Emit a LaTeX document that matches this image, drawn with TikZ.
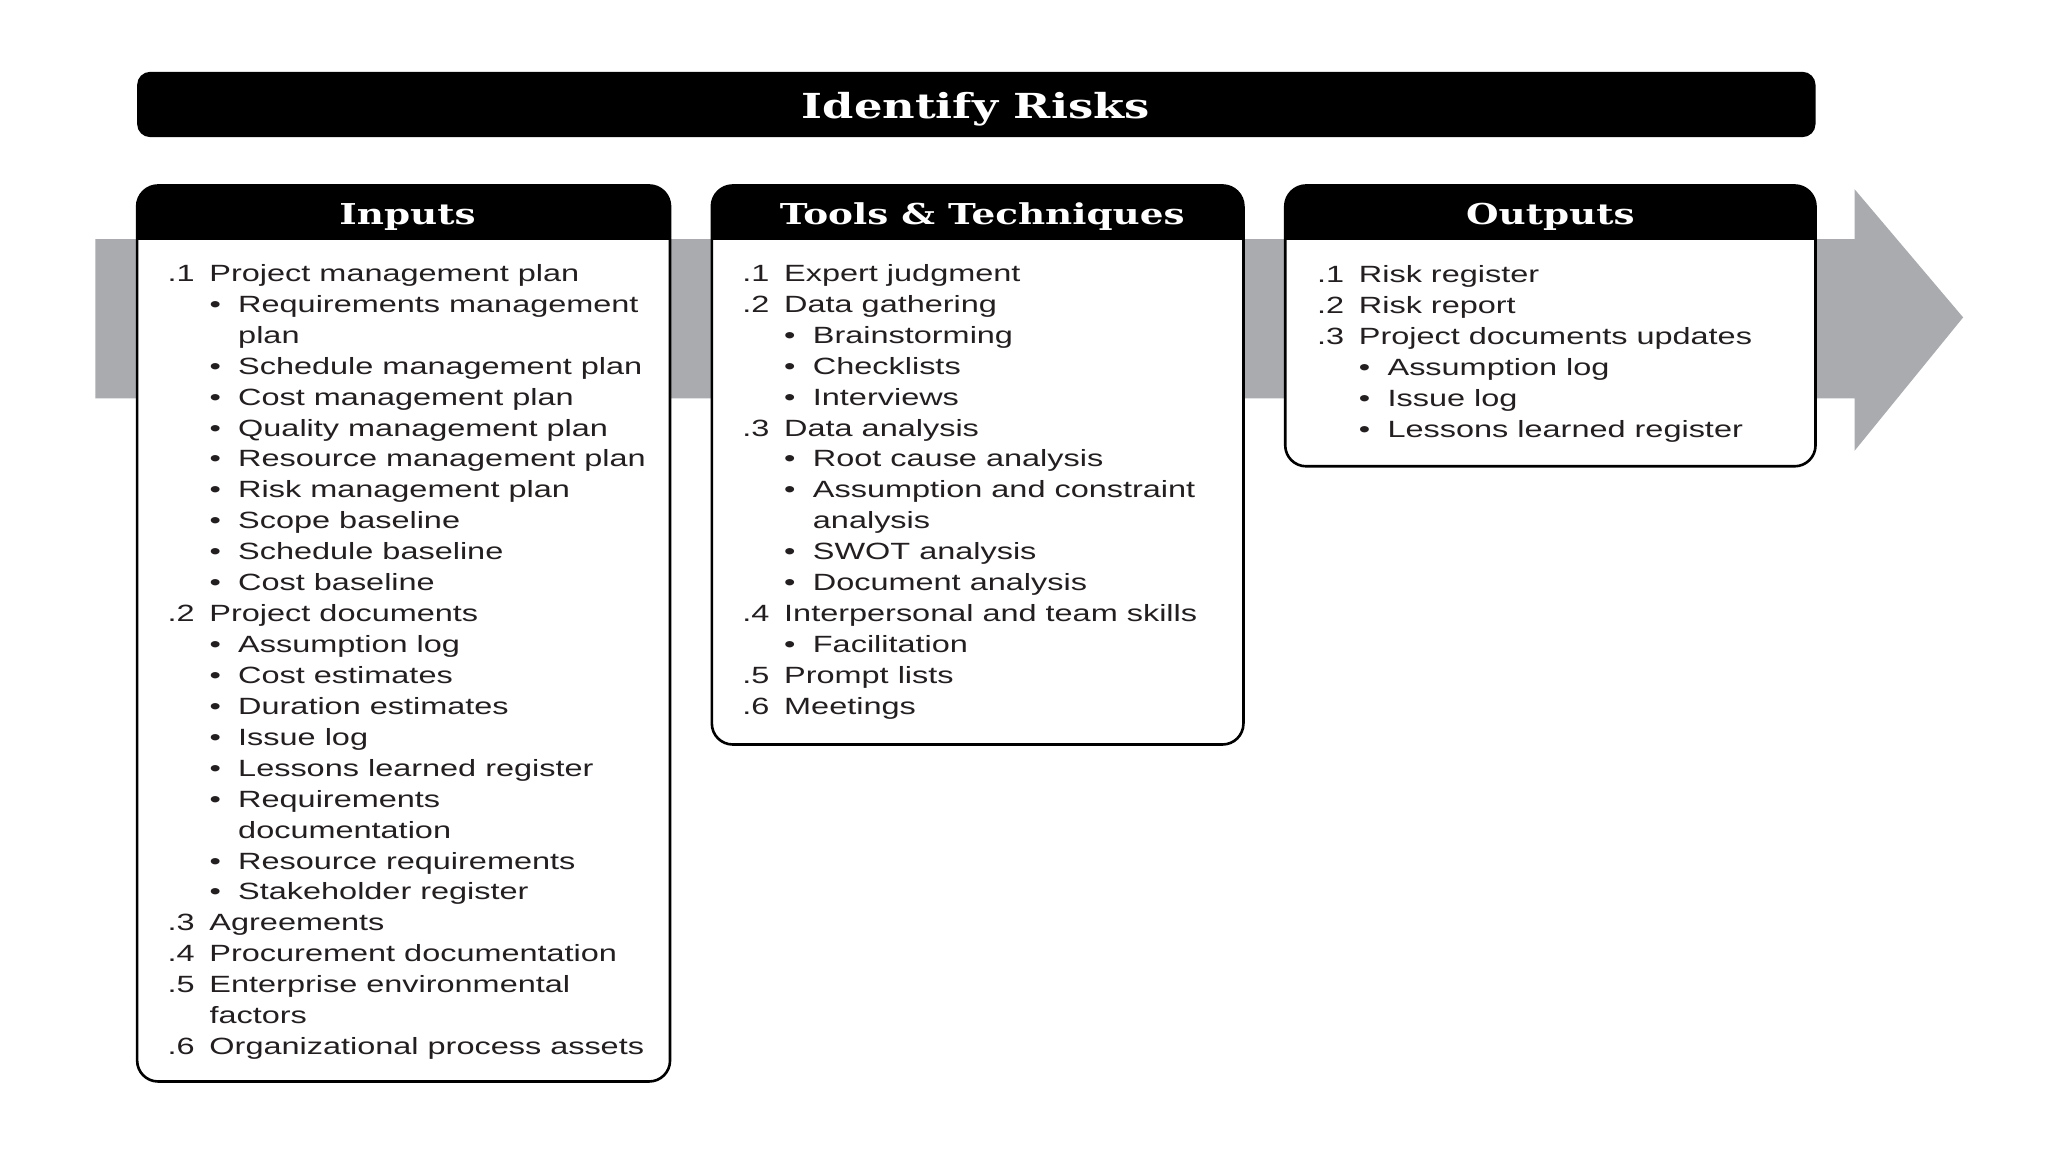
\documentclass[tikz,border=0pt]{standalone}
\usepackage{fontspec}
\setmainfont{Liberation Sans}[FakeStretch=1.38]
\newfontfamily\headfont{DejaVu Serif}[FakeStretch=1.3]
\usepackage{tikz}
\usetikzlibrary{positioning}
\definecolor{bandgray}{HTML}{A9ABAE}
\definecolor{inkgray}{HTML}{231F20}
\tikzset{
  headtext/.style={text=white,inner sep=0pt,font=\headfont\bfseries\fontsize{11}{13}\selectfont},
  titletext/.style={headtext,font=\headfont\bfseries\fontsize{13.2}{15}\selectfont},
  listtext/.style={text=inkgray,inner sep=0pt,anchor=north west,align=left,font=\fontsize{9}{11.84}\selectfont},
  panel/.style={draw=black,line width=1pt,fill=white,rounded corners=8pt}
}
\newcommand*{\numitem}[2]{\makebox[16pt][l]{#1}#2}
\newcommand*{\numwrap}[1]{\hspace*{16pt}#1}
\newcommand*{\bulitem}[1]{\hspace*{16pt}\makebox[11pt][l]{\textbullet}#1}
\newcommand*{\bulwrap}[1]{\hspace*{27pt}#1}

\begin{document}
\begin{tikzpicture}[x=0.5pt,y=-0.5pt]
\useasboundingbox[fill=white] (0,0) rectangle (1568,882);
\fill[bandgray] (73,183) -- (1420,183) -- (1420,145) -- (1503,243)
  -- (1420,345) -- (1420,305) -- (73,305) -- cycle;

\fill[rounded corners=5pt] (105,55) rectangle (1390,105);
\node[titletext] (title) at (747,84) {Identify Risks};

\draw[panel] (105,142) rectangle (513,828);
\begin{scope}
\clip (100,136) rectangle (518,183);
\fill[rounded corners=8pt] (105,142) rectangle (513,210);
\end{scope}
\node[headtext] (inhead) at (312,166) {Inputs};
\node[listtext] (inlist) at (128,202) {%
\numitem{.1}{Project management plan}\\
\bulitem{Requirements management}\\
\bulwrap{plan}\\
\bulitem{Schedule management plan}\\
\bulitem{Cost management plan}\\
\bulitem{Quality management plan}\\
\bulitem{Resource management plan}\\
\bulitem{Risk management plan}\\
\bulitem{Scope baseline}\\
\bulitem{Schedule baseline}\\
\bulitem{Cost baseline}\\
\numitem{.2}{Project documents}\\
\bulitem{Assumption log}\\
\bulitem{Cost estimates}\\
\bulitem{Duration estimates}\\
\bulitem{Issue log}\\
\bulitem{Lessons learned register}\\
\bulitem{Requirements}\\
\bulwrap{documentation}\\
\bulitem{Resource requirements}\\
\bulitem{Stakeholder register}\\
\numitem{.3}{Agreements}\\
\numitem{.4}{Procurement documentation}\\
\numitem{.5}{Enterprise environmental}\\
\numwrap{factors}\\
\numitem{.6}{Organizational process assets}};

\draw[panel] (545,142) rectangle (952,570);
\begin{scope}
\clip (540,136) rectangle (957,183);
\fill[rounded corners=8pt] (545,142) rectangle (952,210);
\end{scope}
\node[headtext] (toolhead) at (752,166) {Tools \& Techniques};
\node[listtext] (toollist) at (568,202) {%
\numitem{.1}{Expert judgment}\\
\numitem{.2}{Data gathering}\\
\bulitem{Brainstorming}\\
\bulitem{Checklists}\\
\bulitem{Interviews}\\
\numitem{.3}{Data analysis}\\
\bulitem{Root cause analysis}\\
\bulitem{Assumption and constraint}\\
\bulwrap{analysis}\\
\bulitem{SWOT analysis}\\
\bulitem{Document analysis}\\
\numitem{.4}{Interpersonal and team skills}\\
\bulitem{Facilitation}\\
\numitem{.5}{Prompt lists}\\
\numitem{.6}{Meetings}};

\draw[panel] (984,142) rectangle (1390,357);
\begin{scope}
\clip (979,136) rectangle (1395,183);
\fill[rounded corners=8pt] (984,142) rectangle (1390,210);
\end{scope}
\node[headtext] (outhead) at (1187,166) {Outputs};
\node[listtext] (outlist) at (1008,203) {%
\numitem{.1}{Risk register}\\
\numitem{.2}{Risk report}\\
\numitem{.3}{Project documents updates}\\
\bulitem{Assumption log}\\
\bulitem{Issue log}\\
\bulitem{Lessons learned register}};
\end{tikzpicture}
\end{document}
